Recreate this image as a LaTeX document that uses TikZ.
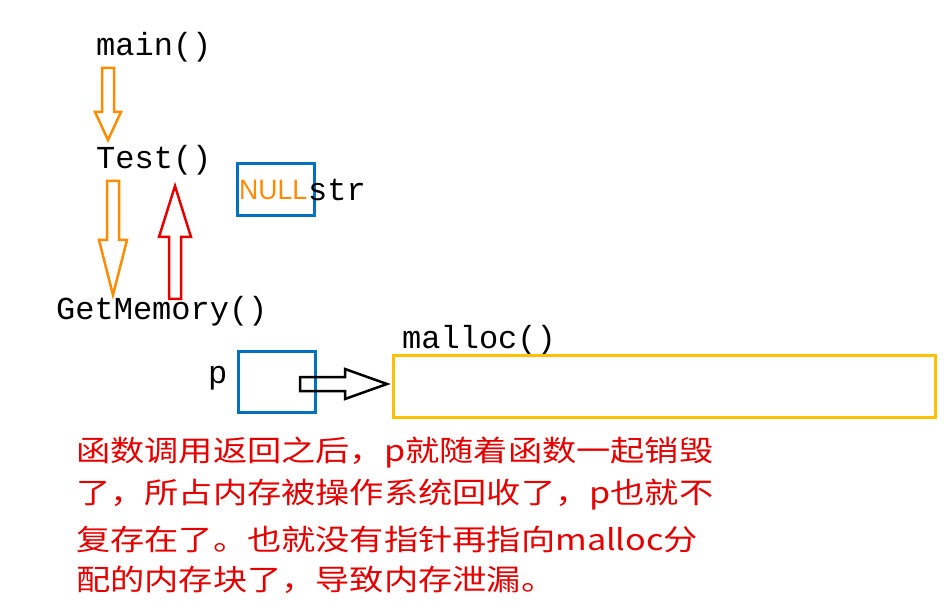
\documentclass[tikz,border=0pt]{standalone}
\usepackage{fontspec}
\setmonofont{Liberation Mono}
\newfontfamily\cjk{Noto Sans CJK SC}
\newfontfamily\narrowsans{Liberation Sans}
\definecolor{gold}{RGB}{255,192,0}
\definecolor{sky}{RGB}{0,112,192}
\begin{document}
\begin{tikzpicture}[x=1pt,y=-1pt,
  lbl/.style={font=\ttfamily\fontsize{32}{34}\selectfont,inner sep=0pt,anchor=west},
  cn/.style={font=\cjk\fontsize{29}{32}\selectfont,text=red!90!black,inner sep=0pt,anchor=west,xscale=1.18},
  box/.style={line width=3pt}]
\useasboundingbox (0,0) rectangle (948,612);
\node[lbl] (main) at (96,47) {main()};
\node[lbl] (test) at (96,160) {Test()};
\node[lbl] (gm) at (56,311) {GetMemory()};
\node[lbl] (mal) at (402,340) {malloc()};
\node[lbl] (p) at (208,378) {p};
% down arrows orange
\draw[orange!90!yellow,line width=2.5pt,line join=miter]
  (102,68) -- (114,68) -- (114,112) -- (121,112) -- (108,140) -- (95,112) -- (102,112) -- cycle;
\draw[orange!90!yellow,line width=2.5pt]
  (107,181) -- (119,181) -- (119,240) -- (127,240) -- (113,295) -- (99,240) -- (107,240) -- cycle;
% up arrow red
\draw[red!90!black,line width=2.5pt]
  (169,299) -- (181,299) -- (181,237) -- (191,237) -- (175,186) -- (159,237) -- (169,237) -- cycle;
% NULL str
\draw[box,sky] (237,164) rectangle (314,216);
\node[font=\narrowsans\fontsize{28}{30}\selectfont,inner sep=0pt,anchor=west,text=orange!90!yellow,xscale=0.95] (nl) at (239,190) {NULL};
\node[lbl] (str) at (308,190) {str};
% p box
\draw[box,sky] (238,352) rectangle (315,412);
% black arrow
\draw[line width=2.5pt]
  (300,377) -- (345,377) -- (345,369) -- (387,384) -- (345,399) -- (345,391) -- (300,391) -- cycle;
% malloc box
\draw[box,gold] (393,356) rectangle (935,417);
\node[cn] (l1) at (76,453) {函数调用返回之后，p就随着函数一起销毁};
\node[cn] (l2) at (76,495) {了，所占内存被操作系统回收了，p也就不};
\node[cn] (l3) at (76,539) {复存在了。也就没有指针再指向malloc分};
\node[cn] (l4) at (76,580) {配的内存块了，导致内存泄漏。};
\end{tikzpicture}
\end{document}
